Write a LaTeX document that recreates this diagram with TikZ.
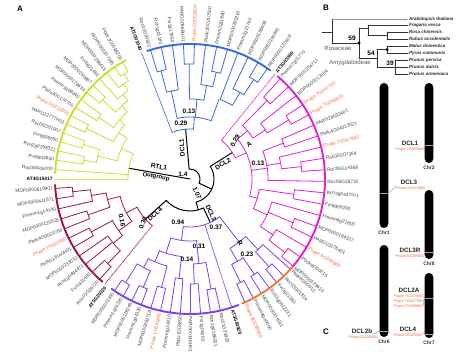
\documentclass[tikz,border=0pt]{standalone}
\usepackage{fontspec}
\setmainfont{Liberation Sans}
\definecolor{cY}{RGB}{205,222,45}
\definecolor{cB}{RGB}{55,105,230}
\definecolor{cM}{RGB}{222,35,205}
\definecolor{cP}{RGB}{125,65,235}
\definecolor{cO}{RGB}{240,120,45}
\definecolor{cR}{RGB}{160,20,75}
\definecolor{labgray}{RGB}{70,70,70}
\definecolor{labor}{RGB}{240,110,60}
\tikzset{
 br/.style={line width=0.8pt},
 bk/.style={line width=1pt},
 clade/.style={line width=1.9pt},
 dotln/.style={dash pattern=on 0.7pt off 0.9pt},
 lab/.style={font=\fontsize{4.8}{4.8}\selectfont, text=labgray, inner sep=0.3pt},
 labO/.style={lab, text=labor},
 labAT/.style={lab, text=black, font=\fontsize{4.8}{4.8}\selectfont\bfseries},
 val/.style={font=\fontsize{6.5}{6.5}\selectfont\bfseries, inner sep=0.5pt},
 sp/.style={font=\fontsize{4.5}{4.5}\selectfont\bfseries\itshape, anchor=west, inner sep=1pt, text=black!85},
 bl/.style={line width=0.6pt, black!80},
 chrom/.style={fill=black, draw=none, rounded corners=4.2pt, minimum width=8.6pt, inner sep=0pt},
 chrl/.style={font=\fontsize{5}{5}\selectfont\bfseries, text=black!80, inner sep=0.5pt, anchor=north},
 dcl/.style={font=\fontsize{6.3}{6.3}\selectfont\bfseries, text=black!85, inner sep=0.3pt},
 gene/.style={font=\fontsize{3.8}{3.8}\selectfont, text=labor, inner sep=0.3pt},
 mk/.style={line width=0.4pt, gray!70},
 cn/.style={line width=0.35pt, gray},
 panel/.style={font=\fontsize{8}{8}\selectfont\bfseries}
}
\newcommand\tarc[4]{\draw[br,#1] (#3:#2pt) arc[start angle=#3,end angle=#4,radius=#2pt];}
\newcommand\trad[4]{\draw[br,#1] (#2:#3pt) -- (#2:#4pt);}
\newcommand\tleaf[3]{\draw[br,#1] (#2:#3pt) -- (#2:135pt);}
\newcommand\tpair[4]{\tarc{#1}{#2}{#3}{#4}\tleaf{#1}{#3}{#2}\tleaf{#1}{#4}{#2}}
\newcommand\tclade[3]{\draw[clade,#1] (#2:135pt) arc[start angle=#2,end angle=#3,radius=135pt];}
\newcommand\tlab[3][lab]{\pgfmathtruncatemacro\tflip{abs(#2)>90}%
 \ifnum\tflip=1 \node[#1,anchor=east,rotate=#2-180] at (#2:137pt) {#3};%
 \else \node[#1,anchor=west,rotate=#2] at (#2:137pt) {#3};\fi}
\begin{document}
\begin{tikzpicture}[x=1pt,y=1pt,line cap=round]
\useasboundingbox (0,0) rectangle (474,361);
\fill[white] (0,0) rectangle (474,361);
\node[panel] (pA) at (20,352) {A};
\begin{scope}[shift={(190,182)}]
% backbone
\draw[bk] (0,0) -- (170:62pt);
\draw[bk] (95:10pt) arc[start angle=95,end angle=-25,radius=10pt];
\draw[bk] (95:10pt) -- (95:50pt);
\draw[bk] (-25:10pt) -- (-25:24pt);
\draw[bk] (32:24pt) arc[start angle=32,end angle=-75,radius=24pt];
\draw[bk] (32:24pt) -- (32:50pt);
\draw[bk] (-75:24pt) -- (-75:32pt);
\draw[bk] (-65:32pt) arc[start angle=-65,end angle=-138,radius=32pt];
\draw[bk] (-65:32pt) -- (-65:48pt);
\draw[bk] (-138:32pt) -- (-138:60pt);
% yellow
\tarc{cY}{62}{180}{156}
\trad{cY,dotln}{180}{62}{135}
\tleaf{cY}{176}{62}
\trad{cY}{156}{62}{75}
\tarc{cY}{75}{166}{147}
\trad{cY}{166}{75}{95}
\tarc{cY}{95}{170}{162}
\trad{cY}{170}{95}{108} \tpair{cY}{108}{172}{168}
\trad{cY}{162}{95}{112} \tpair{cY}{112}{164}{160}
\trad{cY}{147}{75}{85}
\tarc{cY}{85}{154}{140}
\trad{cY}{154}{85}{115} \tpair{cY}{115}{156}{152}
\trad{cY}{140}{85}{92}
\tarc{cY}{92}{146}{133}
\trad{cY}{146}{92}{110} \tpair{cY}{110}{148}{144}
\trad{cY}{133}{92}{100}
\tarc{cY}{100}{138}{128.5}
\trad{cY}{138}{100}{118} \tpair{cY}{118}{140}{136}
\trad{cY}{128.5}{100}{108}
\tarc{cY}{108}{132}{125}
\tleaf{cY}{132}{108}
\trad{cY}{125}{108}{116}
\tarc{cY}{116}{128}{122}
\tleaf{cY}{128}{116}
\trad{cY}{122}{116}{124} \tpair{cY}{124}{124}{120}
\tclade{cY}{177.5}{118.5}
% blue
\trad{cB,dotln}{111}{50}{135}
\tarc{cB}{50}{111}{86}
\trad{cB}{86}{50}{62}
\tarc{cB}{62}{102}{70}
\trad{cB}{102}{62}{90} \tarc{cB}{90}{105}{97.5} \trad{cB}{105}{90}{112} \tpair{cB}{112}{107}{102.3} \tleaf{cB}{97.5}{90}
\trad{cB}{85}{62}{80} \tarc{cB}{80}{90.4}{80}
\trad{cB}{90.4}{80}{115} \tpair{cB}{115}{92.8}{88.1}
\trad{cB}{80}{80}{95} \tarc{cB}{95}{83.4}{76.2} \tleaf{cB}{83.4}{95} \trad{cB}{76.2}{95}{110} \tpair{cB}{110}{78.6}{73.9}
\trad{cB}{70}{62}{85} \tarc{cB}{85}{69.2}{60} \tleaf{cB}{69.2}{85} \trad{cB}{60}{85}{100} \tarc{cB}{100}{64.5}{57.4} \tleaf{cB}{64.5}{100} \trad{cB}{57.4}{100}{118} \tpair{cB}{118}{59.7}{55}
\tclade{cB}{108.5}{53.5}
% magenta
\trad{cM,dotln}{51}{50}{135}
\tarc{cM}{50}{51}{25}
\trad{cM}{25}{50}{62}
\tarc{cM}{62}{40}{-16}
\trad{cM}{40}{62}{75} \tarc{cM}{75}{45.5}{33}
\trad{cM}{45.5}{75}{110} \tpair{cM}{110}{48}{43.1}
\trad{cM}{33}{75}{90} \tarc{cM}{90}{38.2}{30.85} \tleaf{cM}{38.2}{90} \trad{cM}{30.85}{90}{115} \tpair{cM}{115}{33.3}{28.4}
\trad{cM}{8}{62}{78} \tarc{cM}{78}{21}{-1}
\trad{cM}{21}{78}{100} \tpair{cM}{100}{23.5}{18.6}
\trad{cM}{10}{78}{92} \tarc{cM}{92}{13.7}{6.35} \tleaf{cM}{13.7}{92} \trad{cM}{6.35}{92}{112} \tpair{cM}{112}{8.8}{3.9}
\tleaf{cM}{-1}{78}
\trad{cM}{-16}{62}{70} \tarc{cM}{70}{-8.4}{-25}
\trad{cM}{-8.4}{70}{105} \tpair{cM}{105}{-5.9}{-10.8}
\trad{cM}{-25}{70}{85} \tarc{cM}{85}{-15.7}{-34}
\tleaf{cM}{-15.7}{85}
\trad{cM}{-23}{85}{112} \tpair{cM}{112}{-20.6}{-25.5}
\trad{cM}{-34}{85}{100} \tarc{cM}{100}{-30.4}{-37.75} \tleaf{cM}{-30.4}{100} \trad{cM}{-37.75}{100}{120} \tpair{cM}{120}{-35.3}{-40.2}
\tclade{cM}{49.5}{-41.5}
% purple / DCL3
\tarc{cP}{48}{-52}{-98}
\trad{cP,dotln}{-72}{48}{135}
\trad{cP}{-52}{48}{80} \tarc{cP}{80}{-46}{-60}
\trad{cP}{-46}{80}{98} \tarc{cP}{98}{-42}{-48} \tleaf{cP}{-42}{98} \trad{cP}{-48}{98}{118} \tpair{cP}{118}{-46}{-50}
\trad{cP}{-60}{80}{95} \tarc{cP}{95}{-56}{-64} \trad{cP}{-56}{95}{115} \tpair{cP}{115}{-54}{-58} \trad{cP}{-64}{95}{115} \tpair{cP}{115}{-62}{-66}
\trad{cP}{-98}{48}{62} \tarc{cP}{62}{-84}{-108}
\trad{cP}{-84}{62}{85} \tarc{cP}{85}{-79.15}{-87.65}
\trad{cP}{-79.15}{85}{112} \tpair{cP}{112}{-77}{-81.3}
\trad{cP}{-87.65}{85}{105} \tpair{cP}{105}{-85.5}{-89.8}
\trad{cP}{-108}{62}{78} \tarc{cP}{78}{-96.25}{-113}
\trad{cP}{-96.25}{78}{100} \tpair{cP}{100}{-94.1}{-98.4}
\trad{cP}{-113}{78}{90} \tarc{cP}{90}{-104.75}{-117.6}
\trad{cP}{-104.75}{90}{112} \tpair{cP}{112}{-102.6}{-106.9}
\trad{cP}{-117.6}{90}{100} \tarc{cP}{100}{-113.35}{-121.85}
\trad{cP}{-113.35}{100}{118} \tpair{cP}{118}{-111.2}{-115.5}
\trad{cP}{-121.85}{100}{122} \tpair{cP}{122}{-119.7}{-124}
\tclade{cO}{-40.8}{-67.2}
\tclade{cP}{-69}{-125.5}
% crimson / DCL4
\trad{cR,dotln}{231}{60}{135}
\tarc{cR}{60}{231}{208}
\trad{cR}{208}{60}{72} \tarc{cR}{72}{194}{216}
\trad{cR}{194}{72}{85} \tarc{cR}{85}{189.5}{199.4}
\trad{cR}{189.5}{85}{100} \tarc{cR}{100}{186.2}{192.8} \tleaf{cR}{192.8}{100} \trad{cR}{186.2}{100}{118} \tpair{cR}{118}{184}{188.4}
\trad{cR}{199.4}{85}{108} \tpair{cR}{108}{197.2}{201.6}
\trad{cR}{216}{72}{88} \tarc{cR}{88}{208.2}{220}
\trad{cR}{208.2}{88}{112} \tpair{cR}{112}{206}{210.4}
\trad{cR}{220}{88}{100} \tarc{cR}{100}{214.8}{225.8} \tleaf{cR}{214.8}{100} \tleaf{cR}{219.2}{100} \trad{cR}{225.8}{100}{118} \tpair{cR}{118}{223.6}{228}
\tclade{cR}{182.5}{229.5}
% leaf labels: yellow
\tlab[labAT]{180}{AT4G15417}
\tlab{176}{Roc06G06700}
\tlab{172}{Fvr6g42650}
\tlab{168}{Rch2g0158321}
\tlab{164}{Fvr6g09550}
\tlab{160}{Roc05G01907}
\tlab{156}{PARG12777H01}
\tlab[labO]{152}{Prupe.3G213300}
\tlab{148}{Pbdv3G0174700}
\tlab{144}{Pmmm1g09040}
\tlab{140}{MDP0000176634}
\tlab{136}{MDP0000250867}
\tlab{132}{Fvr5g21460}
\tlab{128}{MDP0000296413}
\tlab{124}{MDP0000307185}
\tlab{120}{Pbdv3G0098200}
% blue
\tlab[labAT]{111}{AT1G01040}
\tlab{107}{Roc02G00622}
\tlab{102.3}{Rch1g01180}
\tlab{97.5}{Fvr1g17950}
\tlab{92.8}{PARG00869H01}
\tlab[labO]{88.1}{Prupe.2G050800}
\tlab{83.4}{Pbdv2G0210500}
\tlab{78.6}{Pmmm2g11880}
\tlab{73.9}{MDP0000285210}
\tlab{69.2}{Pmmm2g13740}
\tlab{64.5}{MDP0000166408}
\tlab{59.7}{MDP0000140641}
\tlab{55}{MDP0000137409}
% magenta
\tlab[labAT]{51}{AT3G03300}
\tlab{48}{Pmmm7g01770}
\tlab{43.1}{MDP0000254711}
\tlab{38.2}{MDP0000213094}
\tlab[labO]{33.3}{Prupe.7G047700}
\tlab[labO]{28.4}{Prupe.7G046800}
\tlab{23.5}{PARG28033401}
\tlab{18.6}{Pbdv4G04013021}
\tlab[labO]{13.7}{Prupe.7G047800}
\tlab{8.8}{Roc05G07364}
\tlab{3.9}{Roc06G14368}
\tlab{-1}{Roc06G28732}
\tlab{-5.9}{Rch3g0447571}
\tlab{-10.8}{Fvr6g00200}
\tlab{-15.7}{Pmmm6g21800}
\tlab{-20.6}{MDP0000184327}
\tlab{-25.5}{PARG03278401}
\tlab[labO]{-30.4}{Prupe.6G205800}
\tlab{-35.3}{Pbdv6G00215}
\tlab{-40.2}{MDP0000125610}
% orange R clade
\tlab{-42}{Pbdv8G00912}
\tlab{-46}{Roc03G01824}
\tlab{-50}{Fvr3g11360}
\tlab{-54}{Rch3g0412231}
\tlab{-58}{MDP0000159311}
\tlab{-62}{Pmmm8g10050}
\tlab[labO]{-66}{Prupe.8G089900}
\tlab[labAT]{-72}{AT3G43920}
% purple
\tlab{-77}{Roc01G31920}
\tlab{-81.3}{Rch1g0186021}
\tlab{-85.5}{Fvr1g06200}
\tlab{-89.8}{PARG00146H01}
\tlab{-94.1}{Pbdv1G05890}
\tlab{-98.4}{Pmmm1g24310}
\tlab[labO]{-102.6}{Prupe.1G541800}
\tlab{-106.9}{MDP0000262716}
\tlab{-111.2}{Pmmm1g24330}
\tlab{-115.5}{MDP0000119245}
\tlab{-119.7}{Pmmm1g24320}
\tlab{-124}{MDP0000301455}
% crimson
\tlab{184}{MDP0000619907}
\tlab{188.4}{MDP0000411671}
\tlab{192.8}{Pmmm1g14140}
\tlab{197.2}{MDP0000120528}
\tlab{201.6}{Pbdv4G0023790}
\tlab[labO]{206}{Prupe.7G025600}
\tlab{210.4}{PARG16140H01}
\tlab{214.8}{MDP0000233012}
\tlab{219.2}{Rch1g0494471}
\tlab{223.6}{Fvr1g11480}
\tlab{228}{Roc01G26720}
\tlab[labAT]{232}{AT5G20320}
% inner labels
\node[val,rotate=-10] (tRTL) at (-31,12) {RTL1};
\node[val,rotate=-10,font=\fontsize{6}{6}\selectfont\bfseries] (tOut) at (-34,2) {Outgroup};
\node[val] (v14) at (-7,5) {1.4};
\node[val,rotate=-65] (v107) at (7,-14) {1.07};
\node[val] (v094) at (-12,-43) {0.94};
\node[val,rotate=42] (tD4) at (-35,-35) {DCL4};
\node[val,rotate=-65] (tD3) at (21,-34) {DCL3};
\node[val] (v037) at (26,-48) {0.37};
\node[val,rotate=32] (tD2) at (33,15) {DCL2};
\node[val,rotate=95] (tD1) at (-8,31) {DCL1};
\node[val] (v029a) at (-9,56) {0.29};
\node[val] (v013a) at (-1,68) {0.13};
\node[val,rotate=60] (v029b) at (45,38) {0.29};
\node[val,rotate=30] (tA) at (59,35) {A};
\node[val] (v013b) at (68,16) {0.13};
\node[val] (v031) at (9,-67) {0.31};
\node[val] (v014) at (-3,-80) {0.14};
\node[val,rotate=-55] (tR) at (50,-64) {R};
\node[val] (v023) at (57,-75) {0.23};
\node[val,rotate=-80] (v016) at (-68,-41) {0.16};
\node[val,rotate=70] (v030) at (-47,-44) {0.30};
\end{scope}
% ---------- panel B ----------
\node[panel] (pB) at (326,353) {B};
\node[sp] (s1) at (408,342) {Arabidopsis thaliana};
\node[sp] (s2) at (408,336) {Fragaria vesca};
\node[sp] (s3) at (408,329) {Rosa chinensis};
\node[sp] (s4) at (408,322) {Rubus occidentalis};
\node[sp] (s5) at (408,315) {Malus domestica};
\node[sp] (s6) at (408,308) {Pyrus communis};
\node[sp] (s7) at (408,301) {Prunus persica};
\node[sp] (s8) at (408,294) {Prunus dulcis};
\node[sp] (s9) at (408,287) {Prunus armeniaca};
\coordinate (nRoot) at (332,329);
\coordinate (nRos) at (359,318);
\coordinate (nMal) at (387,311.5);
\draw[bl] (322,329) -- (nRoot);
\draw[bl] (332,342) -- (332,318) -- (nRos);
\draw[bl,dash pattern=on 1pt off 1pt,gray] (332,342) -- (s1.west);
\draw[bl] (359,333) -- (359,303);
\draw[bl] (359,333) -- (368,333);
\draw[bl] (368,336) -- (368,325.5);
\draw[bl] (368,336) -- (s2.west);
\draw[bl] (368,325.5) -- (387,325.5);
\draw[bl] (387,329) -- (387,322);
\draw[bl] (387,329) -- (s3.west);
\draw[bl] (387,322) -- (s4.west);
\draw[bl] (359,303) -- (377,303);
\draw[bl] (377,311.5) -- (377,294);
\draw[bl] (377,311.5) -- (nMal);
\draw[bl] (387,315) -- (387,308);
\draw[bl] (387,315) -- (s5.west);
\draw[bl] (387,308) -- (s6.west);
\draw[bl] (377,294) -- (395,294);
\draw[bl] (395,301) -- (395,287);
\draw[bl] (395,301) -- (s7.west);
\draw[bl] (395,294) -- (s8.west);
\draw[bl] (395,287) -- (s9.west);
\fill (nRos) circle (1.6pt);
\fill (nMal) circle (1.6pt);
\node[font=\fontsize{6.5}{6.5}\selectfont\bfseries] (b59) at (352,323) {59};
\node[font=\fontsize{6.5}{6.5}\selectfont\bfseries] (b54) at (371,307.5) {54};
\node[font=\fontsize{6.5}{6.5}\selectfont\bfseries] (b39) at (390,298) {39};
\node[font=\fontsize{6}{6}\selectfont, text=black!65] (tRos) at (338,312.5) {Rosaceae};
\node[font=\fontsize{6}{6}\selectfont, text=black!65] (tAmy) at (350,298.5) {Amygdaloideae};
% ---------- panel C ----------
\node[panel] (pC) at (326,29) {C};
\node[chrom, minimum height=145pt] (chr1) at (384,205.5) {};
\node[chrom, minimum height=80pt] (chr2) at (429,238) {};
\node[chrom, minimum height=69pt] (chr8) at (429,136.5) {};
\node[chrom, minimum height=92pt] (chr6) at (384,70) {};
\node[chrom, minimum height=65pt] (chr7) at (429,55.5) {};
\node[chrl] at ([yshift=-1.5pt]chr1.south) {Chr1};
\node[chrl] at ([yshift=-1.5pt]chr2.south) {Chr2};
\node[chrl] at ([yshift=-1.5pt]chr8.south) {Chr8};
\node[chrl] at ([yshift=-1.5pt]chr6.south) {Chr6};
\node[chrl] at ([yshift=-1.5pt]chr7.south) {Chr7};
\coordinate (m1) at (424.7,216);
\coordinate (m3) at (388.3,168);
\coordinate (m3r) at (424.7,109);
\coordinate (m2a) at (424.7,63);
\coordinate (m4) at (424.7,26.5);
\coordinate (m2b) at (379.7,30);
\draw[mk] (m1) -- ++(8.6,0);
\draw[mk] (m3) -- ++(-8.6,0);
\draw[mk] (m3r) -- ++(8.6,0);
\draw[mk] (m2a) -- ++(8.6,0);
\draw[mk] (m4) -- ++(8.6,0);
\draw[mk] (m2b) -- ++(8.6,0);
\node[dcl] (d1) at (410,217.5) {DCL1};
\node[gene] (g1) at (410,211.5) {Prupe.2G050800};
\node[dcl] (d3) at (409,178.5) {DCL3};
\node[gene] (g3) at (411,172.5) {Prupe.1G541800};
\node[dcl] (d3r) at (410,110.5) {DCL3R};
\node[gene] (g3r) at (410,104.5) {Prupe.8G089900};
\node[dcl] (d2a) at (409,70.5) {DCL2A};
\node[gene] (g2a1) at (408,64.5) {Prupe.7G047800};
\node[gene] (g2a2) at (408,59.5) {Prupe.7G047700};
\node[gene] (g2a3) at (408,54.5) {Prupe.7G046800};
\node[dcl] (d4) at (408,31.5) {DCL4};
\node[gene] (g4) at (408,25.5) {Prupe.7G025600};
\node[dcl] (d2b) at (362,29.5) {DCL2b};
\node[gene] (g2b) at (363,23.5) {Prupe.6G205800};
\draw[cn] (g1.north east) -- (m1);
\draw[cn] (g3.north west) -- (m3);
\draw[cn] (g3r.north east) -- (m3r);
\draw[cn] (g2a1.east) -- (m2a);
\draw[cn] (g2a2.east) -- (m2a);
\draw[cn] (g2a3.east) -- (m2a);
\draw[cn] (g4.north east) -- (m4);
\draw[cn] (d2b.south east) -- (m2b);
\end{tikzpicture}
\end{document}
